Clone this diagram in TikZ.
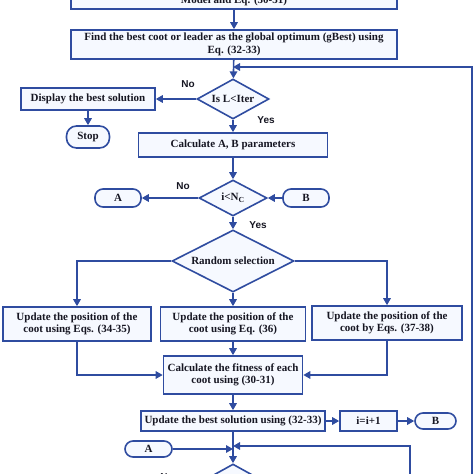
\documentclass[tikz,border=0pt]{standalone}
\usepackage{fontspec}
\usetikzlibrary{arrows.meta,shapes.geometric}
\newfontfamily\tnrfont{Liberation Serif}
\newfontfamily\sansfontlab{Liberation Sans}
\definecolor{lc}{RGB}{47,76,160}
\definecolor{bf}{RGB}{246,249,255}
\definecolor{tc}{RGB}{22,22,34}
\tikzset{
  boxst/.style={draw=lc, fill=bf, line width=1.6pt, inner sep=0pt, align=center,
    text=tc, font=\tnrfont\bfseries\fontsize{11}{12.5}\selectfont},
  termst/.style={boxst, rounded corners=8pt},
  decst/.style={boxst, diamond},
  labst/.style={text=tc, font=\sansfontlab\bfseries\fontsize{10}{12}\selectfont, inner sep=0pt},
  arr/.style={draw=lc, line width=1.6pt, -{Triangle[length=7pt,width=7.5pt]}},
  ln/.style={draw=lc, line width=1.6pt}
}
\begin{document}
\begin{tikzpicture}[x=1pt,y=-1pt]
\useasboundingbox (0,0) rectangle (474,474);
\clip (0,0) rectangle (474,474);
% nodes
\node[boxst, minimum width=326pt, minimum height=30pt] (top) at (234,-6) {\strut\\Model and Eq. (30-31)};
\node[boxst, minimum width=326pt, minimum height=29pt] (gb) at (234,44.5) {Find the best coot or leader as the global optimum (gBest) using\\Eq. (32-33)};
\node[decst, aspect=1.8, minimum width=72pt, minimum height=40pt] (d1) at (233,99) {Is L<Iter};
\node[boxst, minimum width=134pt, minimum height=22pt] (disp) at (88,99) {Display the best solution};
\node[termst, rounded corners=10pt, minimum width=43pt, minimum height=22pt] (stop) at (88,137) {Stop};
\node[boxst, minimum width=189pt, minimum height=24pt] (calc) at (233,145) {Calculate A, B parameters};
\node[decst, aspect=1.9, minimum width=68pt, minimum height=36pt] (d2) at (233,198) {i<N\textsubscript{C}};
\node[termst, minimum width=46pt, minimum height=18pt] (a1) at (118,198) {A};
\node[termst, minimum width=46pt, minimum height=18pt] (b1) at (306,198) {B};
\node[decst, aspect=2, minimum width=122pt, minimum height=62pt] (d3) at (233,261) {Random selection};
\node[boxst, minimum width=148pt, minimum height=34pt] (lb) at (77,324) {Update the position of the\\coot using Eqs. (34-35)};
\node[boxst, minimum width=145pt, minimum height=34pt] (mb) at (233,324) {Update the position of the\\coot using Eq. (36)};
\node[boxst, minimum width=150pt, minimum height=34pt] (rb) at (387,323) {Update the position of the\\coot by Eqs. (37-38)};
\node[boxst, minimum width=139pt, minimum height=38pt] (fit) at (233,375) {Calculate the fitness of each\\coot using (30-31)};
\node[boxst, minimum width=184pt, minimum height=20pt] (upd) at (233,421) {Update the best solution using (32-33)};
\node[boxst, minimum width=57pt, minimum height=20pt] (inc) at (368.5,421) {i=i+1};
\node[termst, minimum width=41pt, minimum height=16pt] (b2) at (435.5,421) {B};
\node[termst, minimum width=47pt, minimum height=16pt] (a2) at (148.5,449) {A};
\node[decst, aspect=1.8, minimum width=72pt, minimum height=40pt] (d4) at (233,484) {};
% labels
\node[labst] (no1) at (188,84) {No};
\node[labst] (yes1) at (266,120) {Yes};
\node[labst] (no2) at (183,186) {No};
\node[labst] (yes2) at (258,225) {Yes};
\node[labst] (no4) at (167,477) {No};
% coordinates
\coordinate (j1) at (233,67);
\coordinate (loopR) at (472,490);
\coordinate (j2) at (233,449);
\coordinate (j3) at (233,446);
\coordinate (loopB) at (410,490);
% connectors
\draw[arr] (top) -- (gb);
\draw[arr] (gb) -- (d1);
\draw[arr] (loopR) |- (j1);
\draw[arr] (d1) -- (disp);
\draw[arr] (disp) -- (stop);
\draw[arr] (d1) -- (calc);
\draw[arr] (calc) -- (d2);
\draw[arr] (d2) -- (a1);
\draw[arr] (b1) -- (d2);
\draw[arr] (d2) -- (d3);
\draw[arr] (d3.west) -| (lb.north);
\draw[arr] (d3) -- (mb);
\draw[arr] (d3.east) -| (rb.north);
\draw[arr] (mb) -- (fit);
\draw[arr] (lb.south) |- (fit.west);
\draw[arr] (rb.south) |- (fit.east);
\draw[arr] (fit) -- (upd);
\draw[arr] (upd) -- (inc);
\draw[arr] (inc) -- (b2);
\draw[arr] (upd) -- (d4);
\draw[arr] (a2) -- (j2);
\draw[arr] (loopB) |- (j3);
\end{tikzpicture}
\end{document}
